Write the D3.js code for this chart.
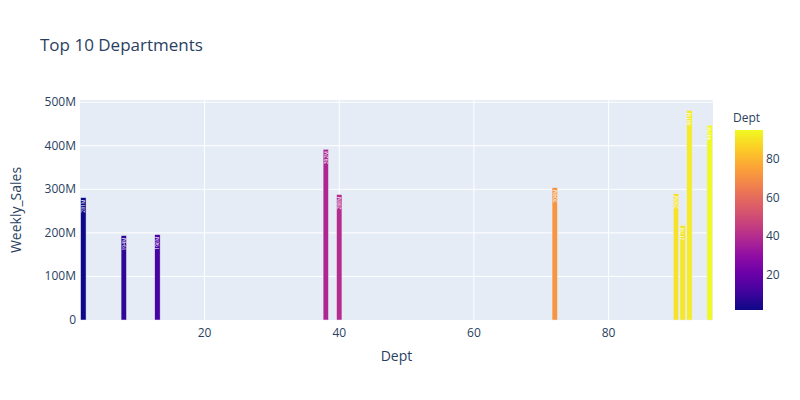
<!DOCTYPE html>
<html><head><meta charset="utf-8">
<script src="https://cdn.jsdelivr.net/npm/d3@7"></script>
<style>body{margin:0;background:#fff}text{font-family:"Open Sans",sans-serif}</style>
</head><body><svg id="c" width="800" height="400"></svg>
<script>
const depts = [2, 8, 13, 38, 40, 72, 90, 91, 92, 95]
const sales = [281e6, 194e6, 196e6, 392e6, 288e6, 304e6, 290e6, 217e6, 481e6, 447e6]
const yTicks = [0, 100e6, 200e6, 300e6, 400e6, 500e6]
const xTicks = [20, 40, 60, 80]
const cTicks = [20, 40, 60, 80]

const svg = d3.select('#c')
const m = {l: 80, r: 713, t: 100, b: 320}
const x = d3.scaleLinear().domain([1.5, 95.5]).range([m.l, m.r])
const y = d3.scaleLinear().domain([0, 505e6]).range([m.b, m.t])
const color = d3.scaleSequential(d3.interpolatePlasma).domain([2, 95])
const fmt = v => v === 0 ? '0' : (v / 1e6) + 'M'

svg.append('rect').attr('x', m.l).attr('y', m.t).attr('width', m.r - m.l).attr('height', m.b - m.t).attr('fill', '#e5ecf6')
svg.selectAll('.gy').data(yTicks.slice(1)).join('line')
  .attr('x1', m.l).attr('x2', m.r).attr('y1', d => y(d)).attr('y2', d => y(d))
  .attr('stroke', '#fff')
svg.selectAll('.gx').data(xTicks).join('line')
  .attr('x1', d => x(d)).attr('x2', d => x(d)).attr('y1', m.t).attr('y2', m.b)
  .attr('stroke', '#fff')

const bw = x(1.8) - x(1)
const g = svg.append('g')
depts.forEach((d, i) => {
  const cx = x(d)
  g.append('rect').attr('x', cx - bw / 2).attr('width', bw)
    .attr('y', y(sales[i])).attr('height', y(0) - y(sales[i]))
    .attr('fill', color(d)).attr('stroke', '#e5ecf6').attr('stroke-width', 0.5)
  g.append('text').attr('transform', `translate(${cx + 1.8},${y(sales[i]) + 2}) rotate(-90)`)
    .attr('text-anchor', 'end').attr('font-size', 5).attr('fill', '#fff')
    .text(d3.format('.4~s')(sales[i]).replace('G', 'B'))
})

svg.selectAll('.yl').data(yTicks).join('text')
  .attr('x', m.l - 4).attr('y', d => y(d) + 4).attr('text-anchor', 'end')
  .attr('font-size', 12).attr('fill', '#2a3f5f').text(fmt)
svg.selectAll('.xl').data(xTicks).join('text')
  .attr('x', d => x(d)).attr('y', m.b + 17).attr('text-anchor', 'middle')
  .attr('font-size', 12).attr('fill', '#2a3f5f').text(d => d)

svg.append('text').attr('x', 40).attr('y', 51).attr('font-size', 17).attr('fill', '#2a3f5f').text('Top 10 Departments')
svg.append('text').attr('x', (m.l + m.r) / 2).attr('y', 361).attr('text-anchor', 'middle')
  .attr('font-size', 14).attr('fill', '#2a3f5f').text('Dept')
svg.append('text').attr('transform', `translate(21,${(m.t + m.b) / 2}) rotate(-90)`).attr('text-anchor', 'middle')
  .attr('font-size', 14).attr('fill', '#2a3f5f').text('Weekly_Sales')

// colorbar
const cb = {x: 735, w: 28, t: 130, b: 310}
const cy = d3.scaleLinear().domain([2, 95]).range([cb.b, cb.t])
const grad = svg.append('defs').append('linearGradient').attr('id', 'gr')
  .attr('x1', 0).attr('y1', 1).attr('x2', 0).attr('y2', 0)
d3.range(0, 1.01, 0.1).forEach(t => grad.append('stop').attr('offset', t).attr('stop-color', d3.interpolatePlasma(t)))
svg.append('rect').attr('x', cb.x).attr('y', cb.t).attr('width', cb.w).attr('height', cb.b - cb.t).attr('fill', 'url(#gr)')
svg.selectAll('.cl').data(cTicks).join('text')
  .attr('x', cb.x + cb.w + 3).attr('y', d => cy(d) + 4)
  .attr('font-size', 12).attr('fill', '#2a3f5f').text(d => d)
svg.append('text').attr('x', 733).attr('y', 122).attr('font-size', 12).attr('fill', '#2a3f5f').text('Dept')
</script></body></html>
